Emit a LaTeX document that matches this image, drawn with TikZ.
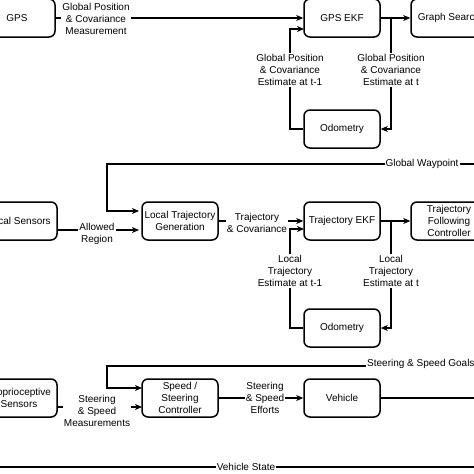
\documentclass[tikz,border=0pt]{standalone}
\usepackage{fontspec}
\setmainfont{Liberation Sans}
\usetikzlibrary{arrows.meta}
\begin{document}
\begin{tikzpicture}[x=1pt,y=-1pt,
  every node/.style={font=\fontsize{10}{12}\selectfont},
  blk/.style={draw, line width=1.5pt, rounded corners=6pt, minimum width=76pt, minimum height=38pt, align=center, inner sep=1pt},
  lbl/.style={fill=white, align=center, inner sep=1pt},
  conn/.style={line width=1.1pt},
  arr/.style={conn, -{Stealth[length=7pt,width=6pt,inset=2pt]}}]
\useasboundingbox (0,0) rectangle (474,474);
\clip (0,0) rectangle (474,474);
\fill[white] (0,0) rectangle (474,474);
% boxes
\node[blk] (gps) at (17,18) {GPS};
\node[blk] (gpsekf) at (342,18) {GPS EKF};
\node[blk] (graph) at (449,18) {Graph Search};
\node[blk] (odo1) at (342,129) {Odometry};
\node[blk] (locsens) at (19,221) {Local Sensors};
\node[blk] (ltg) at (180,221) {Local Trajectory\\Generation};
\node[blk] (tekf) at (342,221) {Trajectory EKF};
\node[blk] (tfc) at (449,221) {Trajectory\\Following\\Controller};
\node[blk] (odo2) at (342,328) {Odometry};
\node[blk] (prop) at (19,398) {Proprioceptive\\Sensors};
\node[blk] (ssc) at (180,398) {Speed /\\Steering\\Controller};
\node[blk] (veh) at (342,398) {Vehicle};
% coordinates
\coordinate (b1) at (391,18);
\coordinate (f1) at (290,129);
\coordinate (f1in) at (304,29);
\coordinate (b2) at (391,221);
\coordinate (f2) at (290,328);
\coordinate (f2in) at (304,229);
\coordinate (wR) at (480,164);
\coordinate (wc) at (107,164);
\coordinate (win) at (139,211);
\coordinate (lsout) at (57,230);
\coordinate (lsin) at (139,230);
\coordinate (gl) at (366,366);
\coordinate (gc) at (107,366);
\coordinate (gin) at (142,388);
\coordinate (pout) at (57,407);
\coordinate (pin) at (142,407);
\coordinate (vR) at (480,398);
\coordinate (vsL) at (-5,467);
\coordinate (vsR) at (480,467);
% connectors
\draw[arr] (gps.east) -- (gpsekf.west);
\draw[arr] (gpsekf.east) -- (graph.west);
\draw[arr] (b1) |- (odo1.east);
\draw[arr] (odo1.west) -- (f1) |- (f1in);
\draw[arr] (wR) -- (wc) |- (win);
\draw[arr] (lsout) -- (lsin);
\draw[arr] (ltg.east) -- (tekf.west);
\draw[arr] (tekf.east) -- (tfc.west);
\draw[arr] (b2) |- (odo2.east);
\draw[arr] (odo2.west) -- (f2) |- (f2in);
\draw[arr] (gl) -- (gc) |- (gin);
\draw[arr] (pout) -- (pin);
\draw[arr] (ssc.east) -- (veh.west);
\draw[conn] (veh.east) -- (vR);
\draw[conn] (vsL) -- (vsR);
% labels
\node[lbl] (l1) at (96,19) {Global Position\\\& Covariance\\Measurement};
\node[lbl] (l2) at (391,70) {Global Position\\\& Covariance\\Estimate at t};
\node[lbl] (l3) at (290,70) {Global Position\\\& Covariance\\Estimate at t-1};
\node[lbl] (l4) at (422,164) {Global Waypoint};
\node[lbl] (l5) at (97,234) {Allowed\\Region};
\node[lbl] (l6) at (257,223) {Trajectory\\\& Covariance};
\node[lbl] (l7) at (290,271) {Local\\Trajectory\\Estimate at t-1};
\node[lbl] (l8) at (391,271) {Local\\Trajectory\\Estimate at t};
\node[lbl, anchor=base west] (l9) at (366,366) {Steering \& Speed Goals};
\node[lbl] (l10) at (97,411) {Steering\\\& Speed\\Measurements};
\node[lbl] (l11) at (265,398) {Steering\\\& Speed\\Efforts};
\node[lbl] (l12) at (246,467) {Vehicle State};
\end{tikzpicture}
\end{document}
